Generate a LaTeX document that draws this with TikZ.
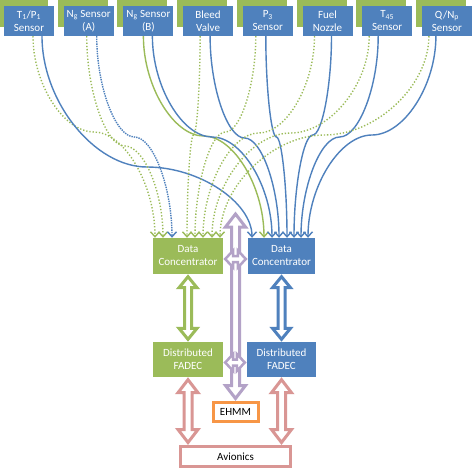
\documentclass[tikz,border=0pt]{standalone}
\usepackage{fontspec}
\setmainfont{Carlito}
\usetikzlibrary{arrows.meta,calc}
\definecolor{cBlue}{HTML}{4F81BD}
\definecolor{cGreen}{HTML}{9BBB59}
\definecolor{cPurple}{HTML}{B3A2C7}
\definecolor{cPink}{HTML}{D99694}
\definecolor{cOrange}{HTML}{F79646}
\newcommand\fatarrow[6]{%
  \path #2 coordinate (fa) #3 coordinate (fb);
  \path ($(fa)!#6!(fb)$) coordinate (fa1) ($(fb)!#6!(fa)$) coordinate (fb1);
  \draw[#1, fill=white, line join=miter]
    (fa) -- ($(fa1)!#5!90:(fb)$) -- ($(fa1)!#4!90:(fb)$)
    -- ($(fb1)!#4!-90:(fa)$) -- ($(fb1)!#5!-90:(fa)$) -- (fb)
    -- ($(fb1)!#5!90:(fa)$) -- ($(fb1)!#4!90:(fa)$)
    -- ($(fa1)!#4!-90:(fb)$) -- ($(fa1)!#5!-90:(fb)$) -- cycle;
}
\tikzset{
  txt/.style={font=\fontsize{11}{13}\selectfont, align=center, inner sep=0.5pt},
  sensor/.style={txt, fill=cBlue, text=white, minimum width=50pt, minimum height=30pt},
  gbox/.style={txt, fill=cGreen, text=white, minimum width=70pt, minimum height=36pt},
  bbox/.style={txt, fill=cBlue, text=white, minimum width=67pt, minimum height=36pt},
  wbox/.style={txt, fill=white, text=black, line width=3pt},
  wire/.style={line width=1.4pt, -{Straight Barb[length=5pt,width=9pt]}},
  gdot/.style={wire, draw=cGreen, dash pattern=on 1.3pt off 1.9pt},
  gline/.style={wire, draw=cGreen},
  bline/.style={wire, draw=cBlue},
  bdot/.style={wire, draw=cBlue, dash pattern=on 1.4pt off 1pt},
  elbow/.style={to path={let \p1=(\tikztostart), \p2=(\tikztotarget), \p3=(0,#1) in
     .. controls (\x1,{0.5*(\y1+\y3)}) and ({0.75*\x1+0.25*\x2},\y3) .. ({0.5*(\x1+\x2)},\y3)
     .. controls ({0.25*\x1+0.75*\x2},\y3) and (\x2,{0.5*(\y3+\y2)}) .. (\x2,\y2)}},
}
\begin{document}
\begin{tikzpicture}[x=1pt,y=-1pt]
\useasboundingbox[fill=white] (0,0) rectangle (474,471);
% green shadow boxes behind sensors
\foreach \i in {0,...,7}
  \fill[cGreen] ({4+59.7*\i-6},-10) rectangle ({4+59.7*\i+44},27);
% sensors
\node[sensor] (s0) at (29,21)    {T\textsubscript{1}/P\textsubscript{1}\\Sensor};
\node[sensor] (s1) at (88.7,21)  {N\textsubscript{g} Sensor\\(A)};
\node[sensor] (s2) at (148.4,21) {N\textsubscript{g} Sensor\\(B)};
\node[sensor] (s3) at (208.1,21) {Bleed\\Valve};
\node[sensor] (s4) at (267.8,21) {P\textsubscript{3}\\Sensor};
\node[sensor] (s5) at (327.5,21) {Fuel\\Nozzle};
\node[sensor] (s6) at (387.2,21) {T\textsubscript{45}\\Sensor};
\node[sensor] (s7) at (446.9,21) {Q/N\textsubscript{p}\\Sensor};
% lower boxes
\node[gbox] (dcG) at (188,256) {Data\\Concentrator};
\node[bbox] (dcB) at (281.5,256) {Data\\Concentrator};
\node[gbox, minimum height=35pt] (fadecG) at (188,359.5) {Distributed\\FADEC};
\node[bbox, minimum height=35pt, minimum width=69pt] (fadecB) at (281.5,359.5) {Distributed\\FADEC};
\node[wbox, draw=cOrange, minimum width=45pt, minimum height=19pt] (ehmm) at (235.5,412) {EHMM};
\node[wbox, draw=cPink, minimum width=110pt, minimum height=20pt] (avio) at (235.5,456.5) {Avionics};
% wires
\draw[gdot]  ([xshift=4pt]s0.south)   to[elbow=132] ([xshift=-33pt]dcG.north);
\draw[bline] ([xshift=13pt]s0.south)  to[elbow=167] ([xshift=-29.5pt]dcB.north);
\draw[gdot]  ([xshift=-2pt]s1.south)  to[elbow=146] ([xshift=-25pt]dcG.north);
\draw[bdot]  ([xshift=8pt]s1.south)   to[elbow=137] ([xshift=-16pt]dcG.north);
\draw[gline] ([xshift=-5pt]s2.south)  to[elbow=136] ([xshift=-17.5pt]dcB.north);
\draw[bline] ([xshift=4pt]s2.south)   to[elbow=137] ([xshift=-9.5pt]dcB.north);
\draw[gdot]  ([xshift=-8pt]s3.south)  to[elbow=135] ([xshift=-1pt]dcG.north);
\draw[bline] ([xshift=2pt]s3.south)   to[elbow=138] ([xshift=-2.5pt]dcB.north);
\draw[gdot]  ([xshift=-12pt]s4.south) to[elbow=132] ([xshift=7pt]dcG.north);
\draw[bline] ([xshift=-2pt]s4.south)  to[elbow=137] ([xshift=5.5pt]dcB.north);
\draw[gdot]  ([xshift=-13pt]s5.south) to[elbow=133] ([xshift=15pt]dcG.north);
\draw[bline] ([xshift=4pt]s5.south)   to[elbow=135] ([xshift=12.5pt]dcB.north);
\draw[gdot]  ([xshift=-18pt]s6.south) to[elbow=133] ([xshift=24pt]dcG.north);
\draw[bline] ([xshift=-9pt]s6.south)  to[elbow=137] ([xshift=19.5pt]dcB.north);
\draw[gdot]  ([xshift=-18pt]s7.south) to[elbow=135] ([xshift=32pt]dcG.north);
\draw[bline] ([xshift=-11pt]s7.south) to[elbow=135] ([xshift=26.5pt]dcB.north);
% fat arrows
\coordinate (busTop) at (235.5,214);
\fatarrow{draw=cPurple, line width=3pt}{(busTop)}{([yshift=2.5pt]ehmm.north)}{4pt}{10pt}{13pt}
\fatarrow{draw=cPurple, line width=2.5pt}{([xshift=2pt,yshift=-3pt]dcG.east)}{([xshift=-2pt,yshift=-3pt]dcB.west)}{3pt}{8.5pt}{8pt}
\fatarrow{draw=cPurple, line width=2.5pt}{([xshift=2pt,yshift=-3pt]fadecG.east)}{([xshift=-2pt,yshift=-3pt]fadecB.west)}{3pt}{8.5pt}{8pt}
\fatarrow{draw=cGreen, line width=3pt}{([yshift=-2.5pt]dcG.south)}{([yshift=2.5pt]fadecG.north)}{3.5pt}{9pt}{11pt}
\fatarrow{draw=cBlue, line width=3pt}{([yshift=-2.5pt]dcB.south)}{([yshift=2.5pt]fadecB.north)}{3.5pt}{9pt}{11pt}
\path (fadecG.south |- avio.north) coordinate (pkL) (fadecB.south |- avio.north) coordinate (pkR);
\fatarrow{draw=cPink, line width=3pt}{([yshift=-2.5pt]fadecG.south)}{([yshift=2.5pt]pkL)}{4pt}{10pt}{13pt}
\fatarrow{draw=cPink, line width=3pt}{([yshift=-2.5pt]fadecB.south)}{([yshift=2.5pt]pkR)}{4pt}{10pt}{13pt}
\end{tikzpicture}
\end{document}
